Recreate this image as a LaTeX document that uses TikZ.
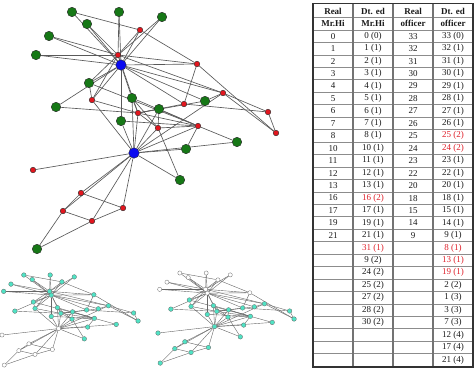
\documentclass[tikz,border=0pt]{standalone}
\usepackage{fontspec}
\setmainfont{Liberation Serif}
\usetikzlibrary{backgrounds}

\definecolor{clubgreen}{RGB}{22,120,22}
\definecolor{clubred}{RGB}{226,22,30}
\definecolor{clubblue}{RGB}{10,10,240}
\definecolor{clubcyan}{RGB}{80,226,196}
\definecolor{hit}{RGB}{222,30,40}

\tikzset{
    mgreen/.style={circle, draw=black!85, fill=clubgreen, minimum size=9.5pt, inner sep=0pt, line width=0.4pt},
    mred/.style={circle, draw=black!85, fill=clubred, minimum size=5.6pt, inner sep=0pt, line width=0.4pt},
    mblue/.style={circle, draw=black!85, fill=clubblue, minimum size=10.5pt, inner sep=0pt, line width=0.4pt},
    scyan/.style={circle, draw=black!60, fill=clubcyan, minimum size=4.6pt, inner sep=0pt, line width=0.3pt},
    swhite/.style={circle, draw=black!60, fill=white, minimum size=4.2pt, inner sep=0pt, line width=0.3pt},
    link/.style={draw=black!65, line width=0.65pt},
    slink/.style={draw=black!60, line width=0.4pt},
    head/.style={font=\fontsize{9}{10}\selectfont\bfseries, text=black!90, inner sep=0pt},
    cell/.style={font=\fontsize{9}{10}\selectfont, text=black!90, inner sep=0pt},
    rowline/.style={draw=black!45, line width=0.7pt},
    colline/.style={draw=black!55, line width=1.4pt},
    frame/.style={draw=black!80, line width=1.8pt}
}

\begin{document}
\begin{tikzpicture}[x=1pt, y=-1pt]
    \useasboundingbox (0,0) rectangle (474,370);

    % club members: main layout, then the two small copies
    \foreach \i/\x/\y/\m/\l/\r in {
        0/134/153/mblue/swhite/scyan, 1/198/126/mred/scyan/scyan, 2/138/113/mred/scyan/scyan,
        3/158/128/mred/scyan/scyan, 4/123/208/mred/swhite/scyan, 5/63/211/mred/swhite/scyan,
        6/92/221/mred/swhite/scyan, 7/159/109/mgreen/scyan/scyan, 8/92/100/mred/scyan/scyan,
        9/56/107/mgreen/scyan/scyan, 10/81/193/mred/swhite/scyan, 11/33/170/mred/swhite/scyan,
        12/180/180/mgreen/scyan/scyan, 13/132/98/mgreen/scyan/scyan, 14/119/12/mgreen/scyan/swhite,
        15/162/17/mgreen/scyan/swhite, 16/37/249/mgreen/swhite/scyan, 17/186/149/mgreen/scyan/scyan,
        18/87/24/mgreen/scyan/swhite, 19/121/121/mgreen/scyan/scyan, 20/49/36/mgreen/scyan/swhite,
        21/237/142/mgreen/scyan/scyan, 22/36/55/mgreen/scyan/swhite, 23/197/64/mred/scyan/swhite,
        24/268/112/mred/scyan/scyan, 25/276/133/mred/scyan/scyan, 26/72/12/mgreen/scyan/swhite,
        27/184/104/mred/scyan/scyan, 28/205/101/mgreen/scyan/scyan, 29/140/30/mred/scyan/swhite,
        30/89/83/mgreen/scyan/scyan, 31/223/93/mred/scyan/scyan, 32/118/55/mred/scyan/swhite,
        33/121/65/mblue/scyan/swhite} {
        \node[\m] (k\i) at (\x,\y) {};
        \node[\l] (a\i) at ({2+(\x-33)*0.56},{275+(\y-12)*0.38}) {};
        \node[\r] (b\i) at ({158+(\x-33)*0.56},{273+(\y-12)*0.38}) {};
    }

    \begin{pgfonlayer}{background}
    \foreach \u/\v in {0/1,0/2,0/3,0/4,0/5,0/6,0/7,0/8,0/10,0/11,0/12,0/13,0/17,0/19,0/21,0/31,
        1/2,1/3,1/7,1/13,1/17,1/19,1/21,1/30,2/3,2/7,2/8,2/9,2/13,2/27,2/28,2/32,
        3/7,3/12,3/13,4/6,4/10,5/6,5/10,5/16,6/16,8/30,8/32,8/33,9/33,13/33,
        14/32,14/33,15/32,15/33,18/32,18/33,19/33,20/32,20/33,22/32,22/33,
        23/25,23/27,23/29,23/32,23/33,24/25,24/27,24/31,25/31,26/29,26/33,27/33,
        28/31,28/33,29/32,29/33,30/32,30/33,31/32,31/33,32/33} {
        \draw[link] (k\u) -- (k\v);
        \draw[slink] (a\u) -- (a\v);
        \draw[slink] (b\u) -- (b\v);
    }
    \end{pgfonlayer}

    % table
    \foreach \r in {1,2} \draw[rowline] (313,{5+\r*12.5}) -- (473,{5+\r*12.5});
    \foreach \r in {1,...,26} \draw[rowline] (313,{30+\r*12.45}) -- (473,{30+\r*12.45});
    \foreach \c in {353,393,433} \draw[colline] (\c,3.5) -- (\c,367);
    \draw[frame] (313,3.5) rectangle (473,367);

    \foreach \c/\t/\s [count=\n] in {333/Real/Mr.Hi, 373/Dt. ed/Mr.Hi, 413/Real/officer, 453/Dt. ed/officer} {
        \node[head] (top\n) at (\c,11.2) {\t};
        \node[head] (sub\n) at (\c,23.7) {\s};
    }

    \foreach \p/\q/\s/\t [count=\r from 0] in {
        0/0 (0)/33/33 (0), 1/1 (1)/32/32 (1), 2/2 (1)/31/31 (1), 3/3 (1)/30/30 (1),
        4/4 (1)/29/29 (1), 5/5 (1)/28/28 (1), 6/6 (1)/27/27 (1), 7/7 (1)/26/26 (1),
        8/8 (1)/25/\textcolor{hit}{25 (2)}, 10/10 (1)/24/\textcolor{hit}{24 (2)},
        11/11 (1)/23/23 (1), 12/12 (1)/22/22 (1), 13/13 (1)/20/20 (1),
        16/\textcolor{hit}{16 (2)}/18/18 (1), 17/17 (1)/15/15 (1), 19/19 (1)/14/14 (1),
        21/21 (1)/9/9 (1), /\textcolor{hit}{31 (1)}//\textcolor{hit}{8 (1)},
        /9 (2)//\textcolor{hit}{13 (1)}, /24 (2)//\textcolor{hit}{19 (1)},
        /25 (2)//2 (2), /27 (2)//1 (3), /28 (2)//3 (3), /30 (2)//7 (3),
        ///12 (4), ///17 (4), ///21 (4)} {
        \node[cell] (c\r-1) at (333,{36.2+\r*12.45}) {\p};
        \node[cell] (c\r-2) at (373,{36.2+\r*12.45}) {\q};
        \node[cell] (c\r-3) at (413,{36.2+\r*12.45}) {\s};
        \node[cell] (c\r-4) at (453,{36.2+\r*12.45}) {\t};
    }
\end{tikzpicture}
\end{document}
